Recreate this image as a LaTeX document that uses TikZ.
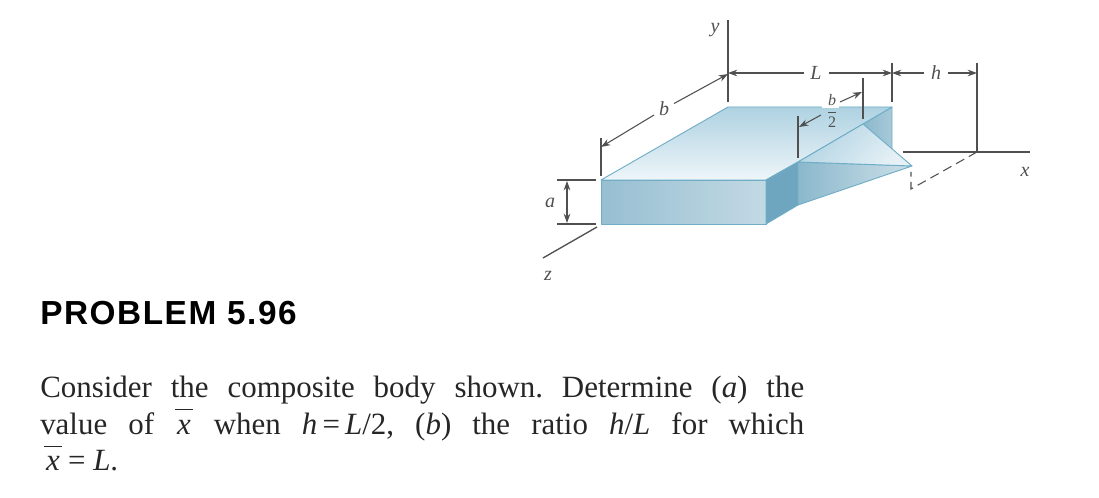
\documentclass[tikz,border=0pt]{standalone}
\usepackage{fontspec}
\setmainfont{Liberation Serif}
\newfontfamily\headfont[LetterSpace=4.7]{Liberation Sans}
\usetikzlibrary{positioning,arrows.meta}
\definecolor{edgeblue}{HTML}{6FAEC6}
\definecolor{sideblue}{HTML}{6EA6BF}
\definecolor{topblue}{HTML}{8FC0D6}
\definecolor{dimgray}{HTML}{505050}
\tikzset{
 dimline/.style={dimgray,line width=0.8pt,>={Stealth[length=7pt,width=5pt]}},
 axisline/.style={dimgray,line width=1pt},
 lbl/.style={inner sep=3.5pt,text=dimgray,font=\fontsize{15}{15}\selectfont\itshape},
 face/.style={draw=edgeblue,line width=0.7pt,line join=round}
}
\begin{document}
\begin{tikzpicture}[x=0.75pt,y=-0.75pt]
 \useasboundingbox (0,0) rectangle (1099,498);
 % body corners
 \coordinate (FL) at (601,180);
 \coordinate (FLb) at (601,224);
 \coordinate (FR) at (766,180);
 \coordinate (FRb) at (766,224);
 \coordinate (BL) at (728,107);
 \coordinate (BR) at (892,107);
 \coordinate (N) at (798,162);
 \coordinate (Nb) at (798,205);
 \coordinate (M) at (863,124);
 \coordinate (Mb) at (892,149);
 \coordinate (A) at (912,166);
 % faces
 \shade[left color=sideblue!80,right color=sideblue!60](M)--(BR)--(Mb)--cycle;
 \draw[face](M)--(BR)--(Mb);
 \shade[left color=sideblue!72,right color=sideblue!42](FL)--(FR)--(FRb)--(FLb)--cycle;
 \draw[face](FL)--(FR)--(FRb)--(FLb)--cycle;
 \shade[top color=topblue!72,bottom color=topblue!15](FL)--(BL)--(BR)--(N)--(FR)--cycle;
 \draw[face](FL)--(BL)--(BR)--(N)--(FR)--cycle;
 \draw[face,fill=sideblue](FR)--(N)--(Nb)--(FRb)--cycle;
 \shade[left color=sideblue!80,right color=sideblue!35](N)--(A)--(Nb)--cycle;
 \draw[face](N)--(A)--(Nb)--cycle;
 \shade[left color=topblue!70,right color=topblue!22,shading angle=45](N)--(M)--(A)--cycle;
 \draw[face](N)--(M)--(A)--cycle;
 % axes
 \coordinate (O) at (977,152);
 \draw[axisline](728,20)--(728,102);
 \draw[axisline](903,152)--(O)--(1030,152);
 \draw[axisline](597,227)--(543,258);
 \draw[axisline](977,63)--(O);
 \draw[dimline,dash pattern=on 7pt off 4pt](O)--(911,189)--(911,172);
 \node[lbl] (ylbl) at (715,30) {y};
 \node[lbl] (xlbl) at (1025,172) {x};
 \node[lbl] (zlbl) at (548,276) {z};
 % dimension lines
 \draw[dimline](557,180)--(596,180);
 \draw[dimline](557,224)--(596,224);
 \draw[dimline,<->](567,181)--(567,223);
 \node[lbl] (albl) at (550,203) {a};
 \draw[dimline](601,138)--(601,176);
 \draw[dimline](892,63)--(892,102);
 \draw[dimline](863,78)--(863,119);
 \draw[dimline](798,116)--(798,158);
 \coordinate (bA) at (601,147);
 \coordinate (bB) at (728,74);
 \node[lbl] (blbl) at (664,109) {b};
 \draw[dimline,->](blbl)--(bA);
 \draw[dimline,->](blbl)--(bB);
 \coordinate (LA) at (728,73);
 \coordinate (LB) at (892,73);
 \coordinate (hB) at (977,73);
 \node[lbl,inner sep=5pt] (Llbl) at (816,73) {L};
 \node[lbl,inner sep=5pt] (hlbl) at (936,73) {h};
 \draw[dimline,->](Llbl)--(LA);
 \draw[dimline,->](Llbl)--(LB);
 \draw[dimline,->](hlbl)--(LB);
 \draw[dimline,->](hlbl)--(hB);
 \fill[white](822,105.5) rectangle (839,108.5);
 \node[lbl,inner sep=0pt,font=\fontsize{12}{12}\selectfont] (halfb) at (832,111) {$\displaystyle\frac{\textit{b}}{\mbox{2}}$};
 \draw[dimline,->](840,102)--(862,92);
 \draw[dimline,->](821,115)--(799,127);
 % problem text
 \node[anchor=base west,inner sep=0pt,font=\headfont\bfseries\fontsize{25}{25}\selectfont] (title) at (40,325) {PROBLEM 5.96};
 \node[anchor=north west,inner sep=0pt,text width=573pt,align=justify,text=black!85,font=\fontsize{23.2}{27.4}\selectfont] (body) at (40,376)
 {\frenchspacing Consider the composite body shown. Determine (\textit{a}) the\linebreak
 value of $\overline{\mkern1mu\textit{x}\vphantom{b}\mkern1mu}$ when \mbox{\textit{h}\,=\,\textit{L}/2}, (\textit{b}) the ratio \textit{h}/\textit{L} for which\linebreak
 \hspace*{3pt}$\overline{\mkern1mu\textit{x}\vphantom{b}\mkern1mu}$\hspace{-1pt} = \textit{L}.};
\end{tikzpicture}
\end{document}
